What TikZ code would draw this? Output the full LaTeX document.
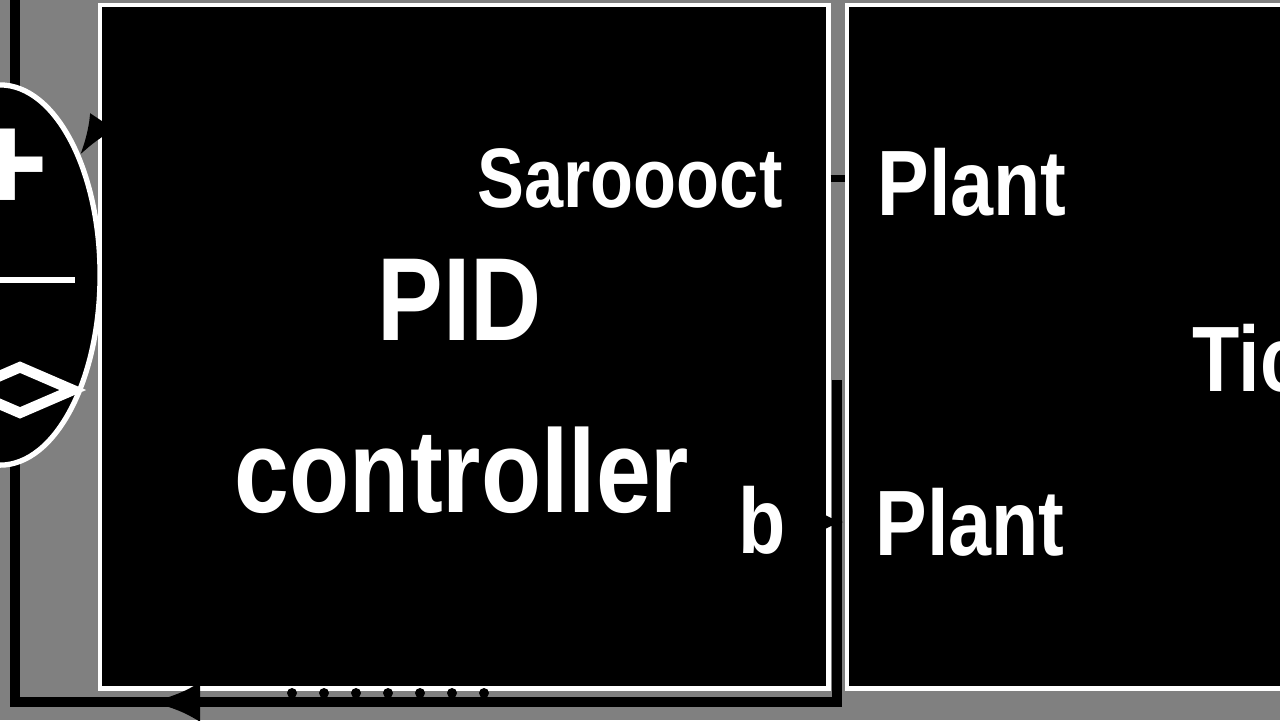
\documentclass[tikz,border=0pt]{standalone}
\usepackage{fontspec}
\usepackage{graphicx}
\setmainfont{Liberation Sans}
\usetikzlibrary{positioning,arrows.meta,shapes.geometric}
\definecolor{bggray}{HTML}{808080}
\newcommand{\tall}[1]{\scalebox{1}[1.2]{#1}}
\begin{document}
\begin{tikzpicture}[x=0.01cm,y=-0.01cm,
    block/.style={draw=white,fill=black,line width=1.3pt,inner sep=0pt},
    lbl/.style={text=white,inner sep=0pt,font=\bfseries\fontsize{22}{26}\selectfont},
    big/.style={lbl,font=\bfseries\fontsize{28}{32}\selectfont},
    sig/.style={draw=black,line width=3pt}]
    \fill[bggray] (0,0) rectangle (1280,720);
    \useasboundingbox (0,0) rectangle (1280,720);
    % signal lines behind the junction
    \coordinate(intop) at (15,0);
    \coordinate(fbtop) at (837,380);
    \coordinate(fbleft) at (15,702);
    \draw[sig](intop) -- (15,280);
    \draw[sig](fbtop) |- (fbleft) -- (15,280);
    % summing junction
    \node[ellipse,draw=white,fill=black,line width=1.5pt,minimum width=2cm,minimum height=3.8cm](sum) at (0,275){};
    \node[lbl,font=\bfseries\fontsize{40}{44}\selectfont](plus) at (8,170){+};
    \draw[white,line width=1.5pt](0,280) -- (75,280);
    \node[diamond,draw=white,fill=black,line width=3pt,minimum width=1.1cm,minimum height=0.5cm,inner sep=0pt](minus) at (20,390){};
    % blocks
    \node[block,minimum width=7.28cm,minimum height=6.83cm](pid) at (464,346.5){};
    \node[block,minimum width=4.6cm,minimum height=6.83cm](plant) at (1077,346.5){};
    % texts
    \node[lbl,font=\bfseries\fontsize{20}{24}\selectfont](sp) at (630,178){\tall{Saroooct}};
    \node[big](pidtxt) at (460,300){\tall{PID}};
    \node[big](ctrl) at (462,470){\tall{controller}};
    \node[lbl](btxt) at (762,520){\tall{b}};
    \node[lbl](plant1) at (972,182){\tall{Plant}};
    \node[lbl](plant2) at (970,522){\tall{Plant}};
    \node[lbl,anchor=west](tc) at (1192,358){\tall{Tic}};
    % connectors
    \draw[sig,line width=2pt](pid.east |- sp) -- (plant.west |- sp);
    \draw[sig,line width=2pt,-{Latex[length=2mm]}](fbtop |- plant2) -- (plant.west |- plant2);
    \draw[sig,-{Latex[length=5mm,width=4mm]}](fbtop |- fbleft) -- (150,702);
    \coordinate(inarr) at (100,125);
    \draw[draw=black,line width=1.5pt,-{Latex[length=4mm,width=3mm]}](inarr) -- (sum);
    \foreach \i in {0,...,6}
        \fill (292+\i*32,693) circle[radius=5];
\end{tikzpicture}
\end{document}
